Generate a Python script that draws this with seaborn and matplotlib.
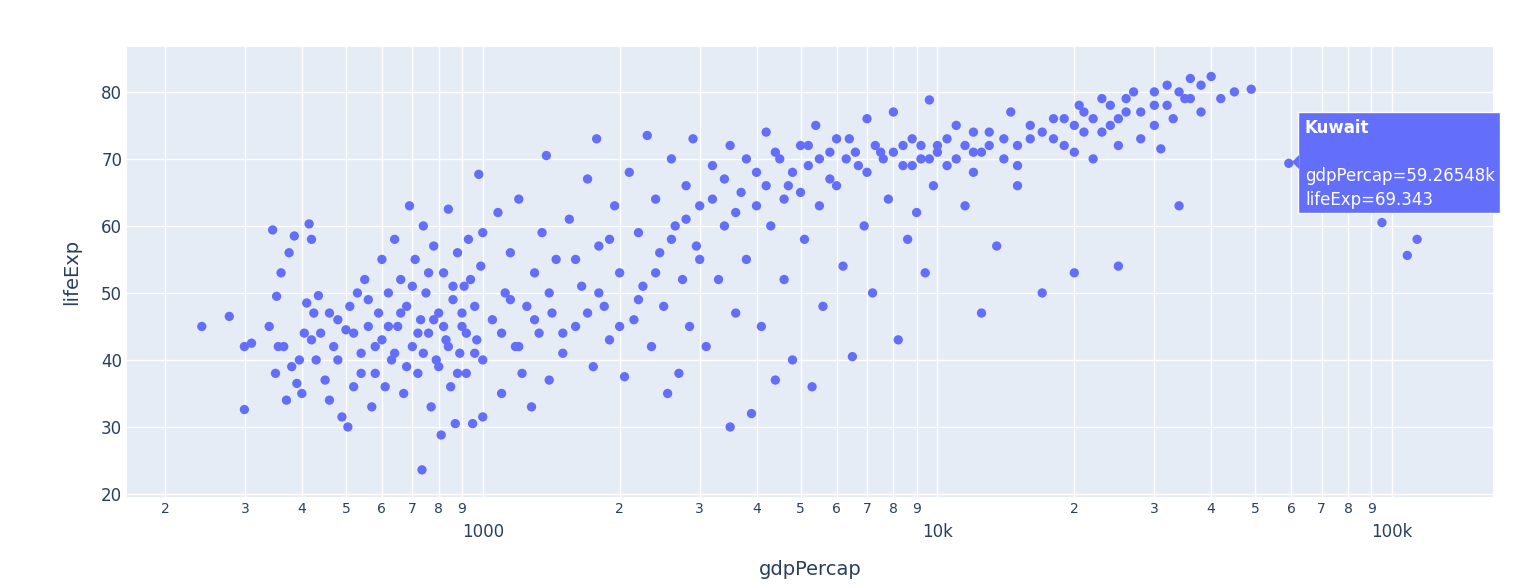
import numpy as np
import pandas as pd
import seaborn as sns
import matplotlib
matplotlib.use("Agg")
import matplotlib.pyplot as plt
from matplotlib.patches import Rectangle, Polygon

pts = [(241,45),(277,46.5),(299,42),(299,32.6),(310,42.5),(339,45),(345,59.4),(350,38),(352,49.5),(355,42),(360,53),(365,42),(370,34),(375,56),(380,39),(385,58.5),(390,36.5),(395,40),(400,35),(405,44),(410,48.5),(415,60.3),(420,58),(425,47),(430,40),(435,49.6),(440,44),(450,37),(460,34),(470,42),(480,46),(490,31.5),(500,44.5),(505,30),(510,48),(520,36),(530,50),(540,41),(550,52),(560,45),(570,33),(580,38),(590,47),(600,43),(600,55),
(610,36),(620,50),(630,40),(640,58),(650,45),(660,52),(670,35),(680,48),(690,63),(700,42),(710,55),(720,38),(730,46),(735,23.6),(740,60),(750,50),(760,44),(770,33),(780,57),(790,40),(800,47),(810,28.8),(820,53),(830,43),(840,62.5),(850,36),(860,49),(870,30.5),(880,56),(890,41),(900,45),(910,51),(920,38),(930,58),(950,30.5),(960,48),(970,43),(980,67.7),(990,54),(1000,40),(1000,31.5),(1000,59),
(1050,46),(1080,62),(1100,35),(1120,50),(1150,56),(1180,42),(1200,64),(1220,38),(1250,48),(1280,33),(1300,53),(1330,44),(1350,59),(1380,70.5),(1400,37),(1420,47),(1450,55),(1500,41),(1550,61),(1600,45),(1650,51),(1700,67),(1750,39),(1780,73),(1800,57),(1850,48),(1900,43),(1950,63),(2000,53),(2050,37.5),(2100,68),(2150,46),(2200,59),(2250,51),(2300,73.5),(2350,42),(2400,64),(2450,56),(2500,48),(2550,35),(2600,70),(2650,60),(2700,38),(2750,52),(2800,66),(2850,45),(2900,73),(2950,57),(3000,63),
(3100,42),(3200,69),(3300,52),(3400,60),(3500,30),(3500,72),(3600,47),(3700,65),(3800,55),(3900,32),(4000,68),(4100,45),(4200,74),(4300,60),(4400,37),(4500,70),(4600,52),(4700,66),(4800,40),(5000,72),(5100,58),(5200,69),(5300,36),(5400,75),(5500,63),(5600,48),(5800,71),(6000,66),(6200,54),(6400,73),(6500,40.5),(6700,69),(6900,60),(7000,76),(7200,50),(7500,71),(7800,64),(8000,77),(8200,43),(8400,69),(8600,58),(8800,73),(9000,62),(9200,70),(9400,53),(9600,78.8),(9800,66),(10000,72),
(10500,69),(11000,75),(11500,63),(12000,71),(12500,47),(13000,74),(13500,57),(14000,70),(14500,77),(15000,66),(16000,73),(17000,50),(18000,76),(19000,72),(20000,53),(20500,78),(21000,74),(22000,70),(23000,79),(24000,75),(25000,54),(26000,77),(27000,80),(28000,73),(30000,78),(31000,71.5),(32000,81),(33000,76),(34000,63),(35000,79),(36000,82),(38000,77),(40000,82.3),(42000,79),(45000,80),(49000,80.4),
(59265,69.343),(95000,60.5),(108000,55.6),(113500,58),
(420,43),(460,47),(480,40),(520,44),(540,38),(560,49),(580,42),(620,45),(640,41),(660,47),(680,39),(700,51),(720,44),(740,41),(760,53),(780,46),(800,39),(820,45),(840,42),(860,51),(880,38),(900,47),(920,44),(940,52),(960,41),(1100,44),(1150,49),(1200,42),(1300,46),(1400,50),(1500,44),(1600,55),(1700,47),(1800,50),(1900,58),(2000,45),(2200,49),(2400,53),(2600,58),(2800,61),(3000,55),(3200,64),(3400,67),(3600,62),(3800,70),(4000,63),(4200,66),(4400,71),(4600,64),(4800,68),(5000,65),(5200,72),(5500,70),(5800,67),(6000,73),(6300,70),(6600,71),(7000,68),(7300,72),(7600,70),(8000,71),(8400,72),(8800,69),(9200,72),(9600,70),(10000,71),(10500,73),(11000,70),(11500,72),(12000,74),(12500,71),(13000,72),(14000,73),(15000,72),(16000,75),(17000,74),(18000,73),(19000,76),(20000,75),(21000,77),(22000,76),(23000,74),(24000,78),(25000,76),(26000,79),(28000,77),(30000,80),(32000,78),(34000,80),(36000,79),(38000,81),(25000,72),(20000,71),(15000,69),(12000,68),(30000,75)]
gdpPercap = [p[0] for p in pts]
lifeExp = [p[1] for p in pts]
y_ticks = [20, 30, 40, 50, 60, 70, 80]

df = pd.DataFrame({"gdpPercap": gdpPercap, "lifeExp": lifeExp})
C = "#636efa"; TXT = "#2a3f5f"

fig = plt.figure(figsize=(15.36, 5.88), dpi=100)
ax = fig.add_axes([127/1536, 91/588, 1366/1536, 450/588])
ax.set_facecolor("#e5ecf6")
sns.scatterplot(data=df, x="gdpPercap", y="lifeExp", ax=ax, color=C, s=45, edgecolor="none", zorder=3)
ax.set_xscale("log")
ax.set_xlim(165, 166700)
ax.set_ylim(19.55, 86.7)
ticks, labels = [], []
for e in [2, 3, 4, 5]:
    for m in range(1, 10):
        v = m * 10**e
        if 165 <= v <= 166700:
            ticks.append(v)
            if m == 1:
                labels.append("\n" + {3: "1000", 4: "10k", 5: "100k"}[e])
            else:
                labels.append(str(m))
ax.set_xticks(ticks)
ax.set_xticklabels(labels)
ax.xaxis.set_minor_locator(matplotlib.ticker.NullLocator())
for t in ax.get_xticklabels():
    t.set_fontsize(10 if "\n" not in t.get_text() else 12)
ax.set_yticks(y_ticks)
ax.tick_params(length=0, colors=TXT, labelsize=12)
ax.tick_params(axis="x", labelsize=10)
for t in ax.get_xticklabels():
    if "\n" in t.get_text():
        t.set_fontsize(12)
ax.grid(True, color="white", linewidth=1, zorder=0)
ax.set_axisbelow(True)
for s in ax.spines.values():
    s.set_visible(False)
ax.set_xlabel("gdpPercap", fontsize=14, color=TXT, labelpad=14)
ax.set_ylabel("lifeExp", fontsize=14, color=TXT, labelpad=14)

# hover label
H = 588
fig.patches.append(Rectangle((1298, H-213), 202, 101, transform=None, facecolor=C, edgecolor="white", lw=1, zorder=10))
fig.patches.append(Polygon([(1292, H-162), (1299, H-155), (1299, H-169)], closed=True, transform=None, facecolor=C, edgecolor="none", zorder=11))
fig.text(1305/1536, 1-128/588, "Kuwait", color="white", fontsize=12, fontweight="bold", va="center", zorder=12)
fig.text(1305/1536, 1-176/588, "gdpPercap=59.26548k", color="white", fontsize=12, va="center", zorder=12)
fig.text(1305/1536, 1-200/588, "lifeExp=69.343", color="white", fontsize=12, va="center", zorder=12)

fig.savefig("out.png", dpi=100)
